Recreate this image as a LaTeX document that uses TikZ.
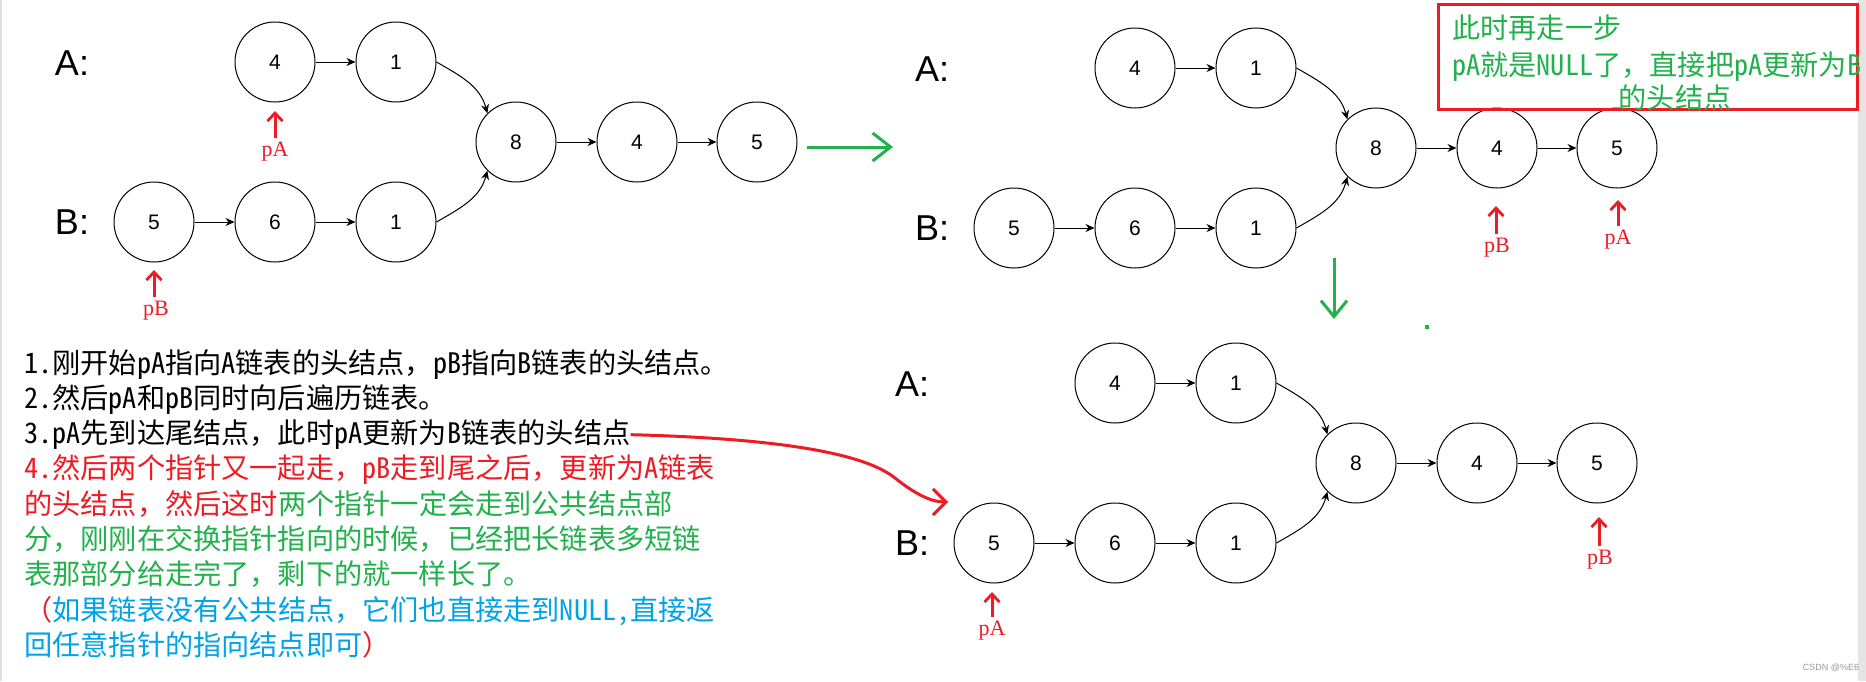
\documentclass[tikz,border=0pt]{standalone}
\usepackage{fontspec}
\setmainfont{Liberation Sans}
\newfontfamily\cjk[RawFeature=+hwid]{Noto Sans CJK SC}
\newfontfamily\cjkfull{Noto Sans CJK SC}
\newfontfamily\serifp{Liberation Serif}
\newcommand\FC{{\cjkfull ，}}
\newcommand\LP{{\cjkfull （}}
\newcommand\RP{{\cjkfull ）}}
\usetikzlibrary{arrows.meta}
\definecolor{pred}{HTML}{ED1C24}
\definecolor{pgreen}{HTML}{22B14C}
\definecolor{pblue}{HTML}{00A2E8}
\tikzset{
  lnode/.style={circle, draw, line width=1pt, minimum size=80pt, inner sep=0pt, font=\fontsize{21}{25}\selectfont},
  lab/.style={font=\fontsize{36}{40}\selectfont, inner sep=0pt},
  link/.style={line width=1pt, -{Stealth[length=9pt,width=8pt]}},
  ptr/.style={pred, line width=3pt, -{Straight Barb[length=8pt,width=15pt,line width=2.8pt]}},
  ptrlab/.style={pred, font=\serifp\fontsize{22}{24}\selectfont, inner sep=0pt, anchor=north},
  bigarrow/.style={pgreen, line width=3pt, -{Straight Barb[length=18pt,width=28pt,line width=3pt]}},
  txt/.style={anchor=base west, inner sep=0pt, font=\cjk\fontsize{28.2}{30}\selectfont},
}
\newcommand\linkdiagram[3]{%
  \begin{scope}[shift={(#2,#3)}]
    \node[lab] (#1-A) at (72,63) {A:};
    \node[lab] (#1-B) at (72,222) {B:};
    \node[lnode] (#1-a4) at (275,62) {4};
    \node[lnode] (#1-a1) at (396,62) {1};
    \node[lnode] (#1-c8) at (516,142) {8};
    \node[lnode] (#1-c4) at (637,142) {4};
    \node[lnode] (#1-c5) at (757,142) {5};
    \node[lnode] (#1-b5) at (154,222) {5};
    \node[lnode] (#1-b6) at (275,222) {6};
    \node[lnode] (#1-b1) at (396,222) {1};
    \draw[link] (#1-a4) -- (#1-a1);
    \draw[link] (#1-a1.east) to[out=-30,in=105] (#1-c8.north west);
    \draw[link] (#1-b5) -- (#1-b6);
    \draw[link] (#1-b6) -- (#1-b1);
    \draw[link] (#1-b1.east) to[out=30,in=-105] (#1-c8.south west);
    \draw[link] (#1-c8) -- (#1-c4);
    \draw[link] (#1-c4) -- (#1-c5);
  \end{scope}}
\begin{document}
\begin{tikzpicture}[x=1pt,y=-1pt]
\fill[white] (0,0) rectangle (1866,681);
\useasboundingbox (0,0) rectangle (1866,681);
\fill[black!12] (0,0) rectangle (2,681);
\fill[black!10] (1858,0) rectangle (1866,681);

\linkdiagram{tl}{0}{0}
\linkdiagram{tr}{860}{6}
\linkdiagram{br}{840}{321}

% pointers
\node[ptrlab] (tl-pA) at (275,142) {pA};
\coordinate (tl-pAtip) at (275,111);
\draw[ptr, shorten <=4pt] (tl-pA.north) -- (tl-pAtip);
\node[ptrlab] (tl-pB) at (156,301) {pB};
\coordinate (tl-pBtip) at (154,270);
\draw[ptr, shorten <=4pt] (tl-pB.north -| tl-pBtip) -- (tl-pBtip);

\node[ptrlab] (tr-pB) at (1497,238) {pB};
\coordinate (tr-pBtip) at (1496,206);
\draw[ptr, shorten <=4pt] (tr-pB.north -| tr-pBtip) -- (tr-pBtip);
\node[ptrlab] (tr-pA) at (1618,230) {pA};
\coordinate (tr-pAtip) at (1618,200);
\draw[ptr, shorten <=4pt] (tr-pA.north -| tr-pAtip) -- (tr-pAtip);

\node[ptrlab] (br-pA) at (992,621) {pA};
\coordinate (br-pAtip) at (992,592);
\draw[ptr, shorten <=4pt] (br-pA.north -| br-pAtip) -- (br-pAtip);
\node[ptrlab] (br-pB) at (1600,550) {pB};
\coordinate (br-pBtip) at (1599,517);
\draw[ptr, shorten <=4pt] (br-pB.north -| br-pBtip) -- (br-pBtip);

% green arrows
\coordinate (g1s) at (807,147);
\coordinate (g1e) at (893,147);
\draw[bigarrow] (g1s) -- (g1e);
\coordinate (g2s) at (1334,258);
\coordinate (g2e) at (1334,319);
\draw[bigarrow, -{Straight Barb[length=16pt,width=26pt,line width=3pt]}] (g2s) -- (g2e);
\fill[pgreen] (1425,325) rectangle (1429,329);

% red note box
\draw[pred, line width=3pt] (1438,4) rectangle (1857,109);
\node[txt, pgreen] (n1) at (1452,38) {此时再走一步};
\node[txt, pgreen] (n2) at (1452,75) {pA就是NULL了\FC 直接把pA更新为B};
\node[txt, pgreen, anchor=base] (n3) at (1675,108) {的头结点};

% explanation text
\node[txt] (l1) at (24,373) {1.刚开始pA指向A链表的头结点\FC pB指向B链表的头结点。};
\node[txt] (l2) at (24,408.3) {2.然后pA和pB同时向后遍历链表。};
\node[txt] (l3) at (24,443.6) {3.pA先到达尾结点\FC 此时pA更新为B链表的头结点};
\node[txt, pred] (l4) at (24,478.9) {4.然后两个指针又一起走\FC pB走到尾之后\FC 更新为A链表};
\node[txt] (l5) at (24,514.2) {\textcolor{pred}{的头结点\FC 然后这时}\textcolor{pgreen}{两个指针一定会走到公共结点部}};
\node[txt, pgreen] (l6) at (24,549.5) {分\FC 刚刚在交换指针指向的时候\FC 已经把长链表多短链};
\node[txt, pgreen] (l7) at (24,584.8) {表那部分给走完了\FC 剩下的就一样长了。};
\node[txt, pblue] (l8) at (24,620.1) {\textcolor{pred}{\LP}如果链表没有公共结点\FC 它们也直接走到NULL,直接返};
\node[txt, pblue] (l9) at (24,655.4) {回任意指针的指向结点即可\textcolor{pred}{\RP}};

% red curved arrow
\coordinate (redend) at (948,502);
\draw[pred, line width=3pt, -{Straight Barb[length=13pt,width=26pt,line width=3pt]}]
  (l3.east) .. controls (760,438) and (860,450) .. (895,478)
  .. controls (913,492.4) and (930,502) .. (redend);

% watermark
\node[text=black!40, font=\fontsize{9}{10}\selectfont, inner sep=0pt] (wm) at (1831,668) {CSDN @\%E6};
\end{tikzpicture}
\end{document}
